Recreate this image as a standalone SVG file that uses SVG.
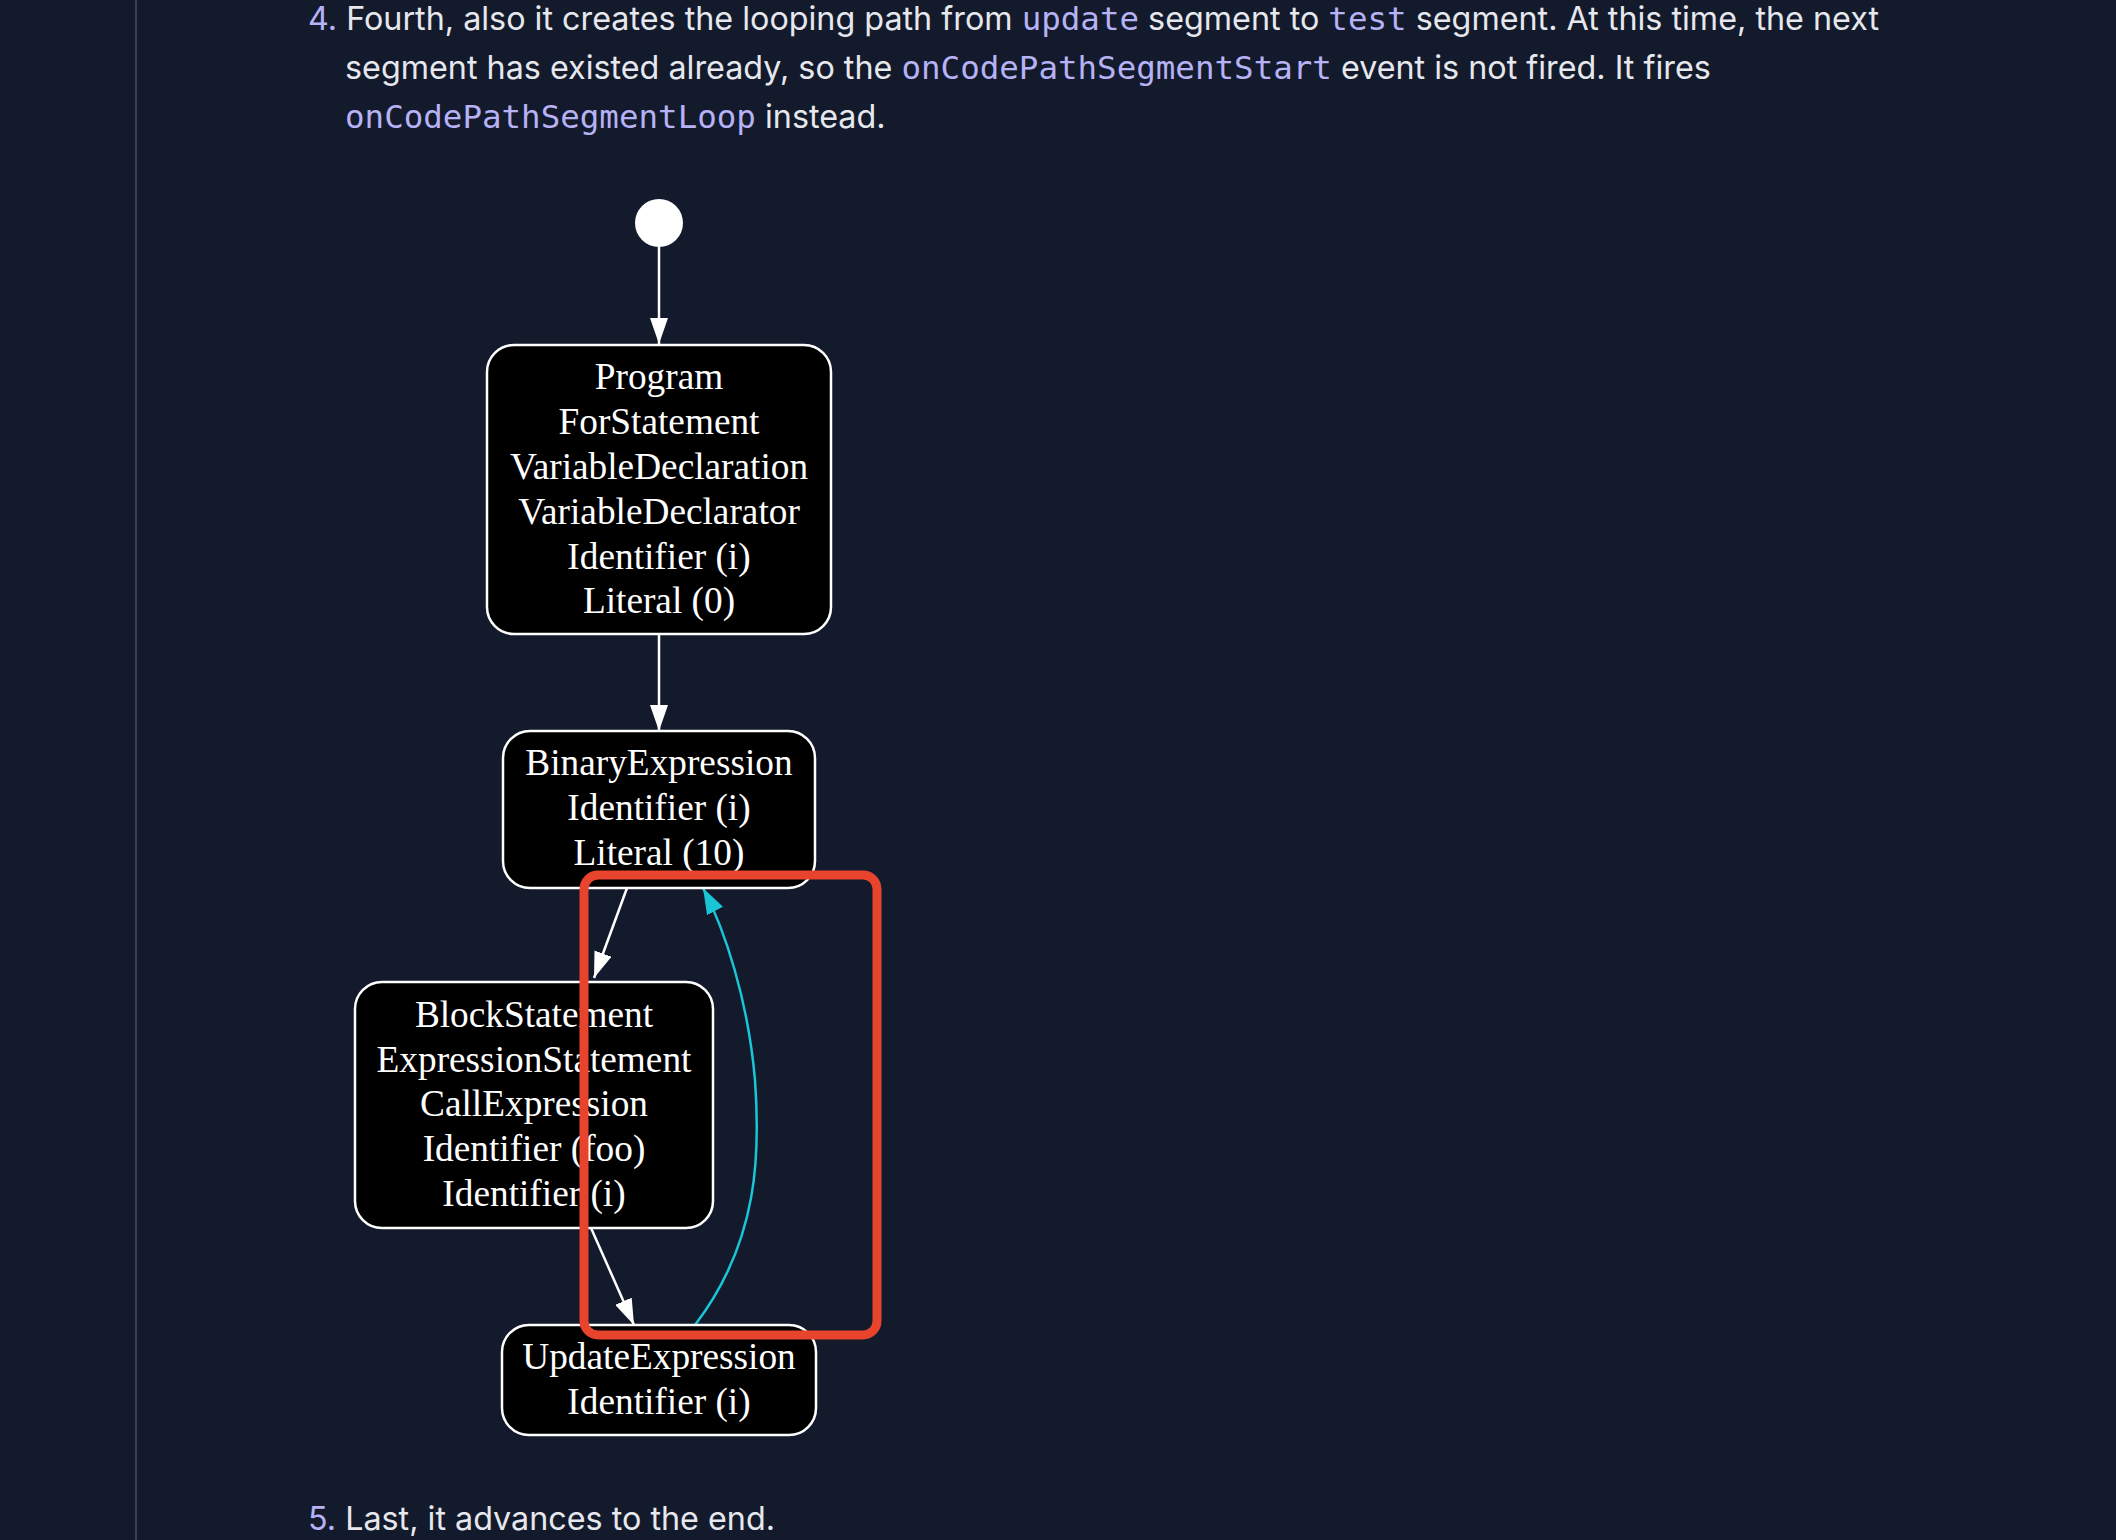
<svg xmlns="http://www.w3.org/2000/svg" width="2116" height="1540" viewBox="0 0 2116 1540">
<style>
.p{font-family:Inter,"Liberation Sans",sans-serif;font-size:32.3px;fill:#e6e8ee}
.c{font-family:"DejaVu Sans Mono","Liberation Mono",monospace;font-size:32.5px;fill:#b7b2f5}
.n{fill:#b7b2f5}
.box{fill:#000;stroke:#fff;stroke-width:2.5}
.t{font-family:"Liberation Serif",serif;font-size:37.3px;fill:#fff;text-anchor:middle}
.e{stroke:#fff;stroke-width:2.5;fill:none}
</style>
<defs>
<marker id="aw" viewBox="0 0 26 18" refX="26" refY="9" markerWidth="26" markerHeight="18" markerUnits="userSpaceOnUse" orient="auto"><path d="M0,0L26,9L0,18z" fill="#fff"/></marker>
<marker id="ac" viewBox="0 0 26 18" refX="26" refY="9" markerWidth="26" markerHeight="18" markerUnits="userSpaceOnUse" orient="auto"><path d="M0,0L26,9L0,18z" fill="#1ac6d6"/></marker>
</defs>
<rect width="2116" height="1540" fill="#131a2b"/>
<line x1="136" y1="0" x2="136" y2="1540" stroke="#3a4152" stroke-width="2"/>
<text x="308" y="30" class="p"><tspan class="n">4.</tspan> Fourth, also it creates the looping path from <tspan class="c">update</tspan> segment to <tspan class="c">test</tspan> segment. At this time, the next</text>
<text x="345" y="79" class="p">segment has existed already, so the <tspan class="c">onCodePathSegmentStart</tspan> event is not fired. It fires</text>
<text x="345" y="128" class="p"><tspan class="c">onCodePathSegmentLoop</tspan> instead.</text>
<text x="308" y="1530" class="p"><tspan class="n">5.</tspan> Last, it advances to the end.</text>
<g id="start"><circle cx="659" cy="223" r="24" fill="#fff"/></g>
<g id="connectors">
<line x1="659" y1="247" x2="659" y2="344" class="e" marker-end="url(#aw)"/>
<line x1="659" y1="634" x2="659" y2="731" class="e" marker-end="url(#aw)"/>
<line x1="627" y1="888" x2="594" y2="978" class="e" marker-end="url(#aw)"/>
<line x1="591" y1="1228" x2="634" y2="1325" class="e" marker-end="url(#aw)"/>
<path d="M695,1325 C760,1240 760,1150 755,1080 C748,1000 725,930 703,888" stroke="#1ac6d6" stroke-width="2.5" fill="none" marker-end="url(#ac)"/>
</g>
<g id="program"><rect x="487" y="345" width="344" height="289" rx="27" class="box"/>
<text class="t" x="659" y="389">Program</text><text class="t" x="659" y="434">ForStatement</text><text class="t" x="659" y="479">VariableDeclaration</text><text class="t" x="659" y="524">VariableDeclarator</text><text class="t" x="659" y="569">Identifier (i)</text><text class="t" x="659" y="613">Literal (0)</text></g>
<g id="binary"><rect x="503" y="731" width="312" height="157" rx="27" class="box"/>
<text class="t" x="659" y="775">BinaryExpression</text><text class="t" x="659" y="820">Identifier (i)</text><text class="t" x="659" y="865">Literal (10)</text></g>
<g id="block"><rect x="355" y="982" width="358" height="246" rx="27" class="box"/>
<text class="t" x="534" y="1027">BlockStatement</text><text class="t" x="534" y="1072">ExpressionStatement</text><text class="t" x="534" y="1116">CallExpression</text><text class="t" x="534" y="1161">Identifier (foo)</text><text class="t" x="534" y="1206">Identifier (i)</text></g>
<g id="update"><rect x="502" y="1325" width="314" height="110" rx="27" class="box"/>
<text class="t" x="659" y="1369">UpdateExpression</text><text class="t" x="659" y="1414">Identifier (i)</text></g>
<rect x="584" y="875" width="293" height="460" rx="14" fill="none" stroke="#e8432c" stroke-width="9"/>
</svg>
